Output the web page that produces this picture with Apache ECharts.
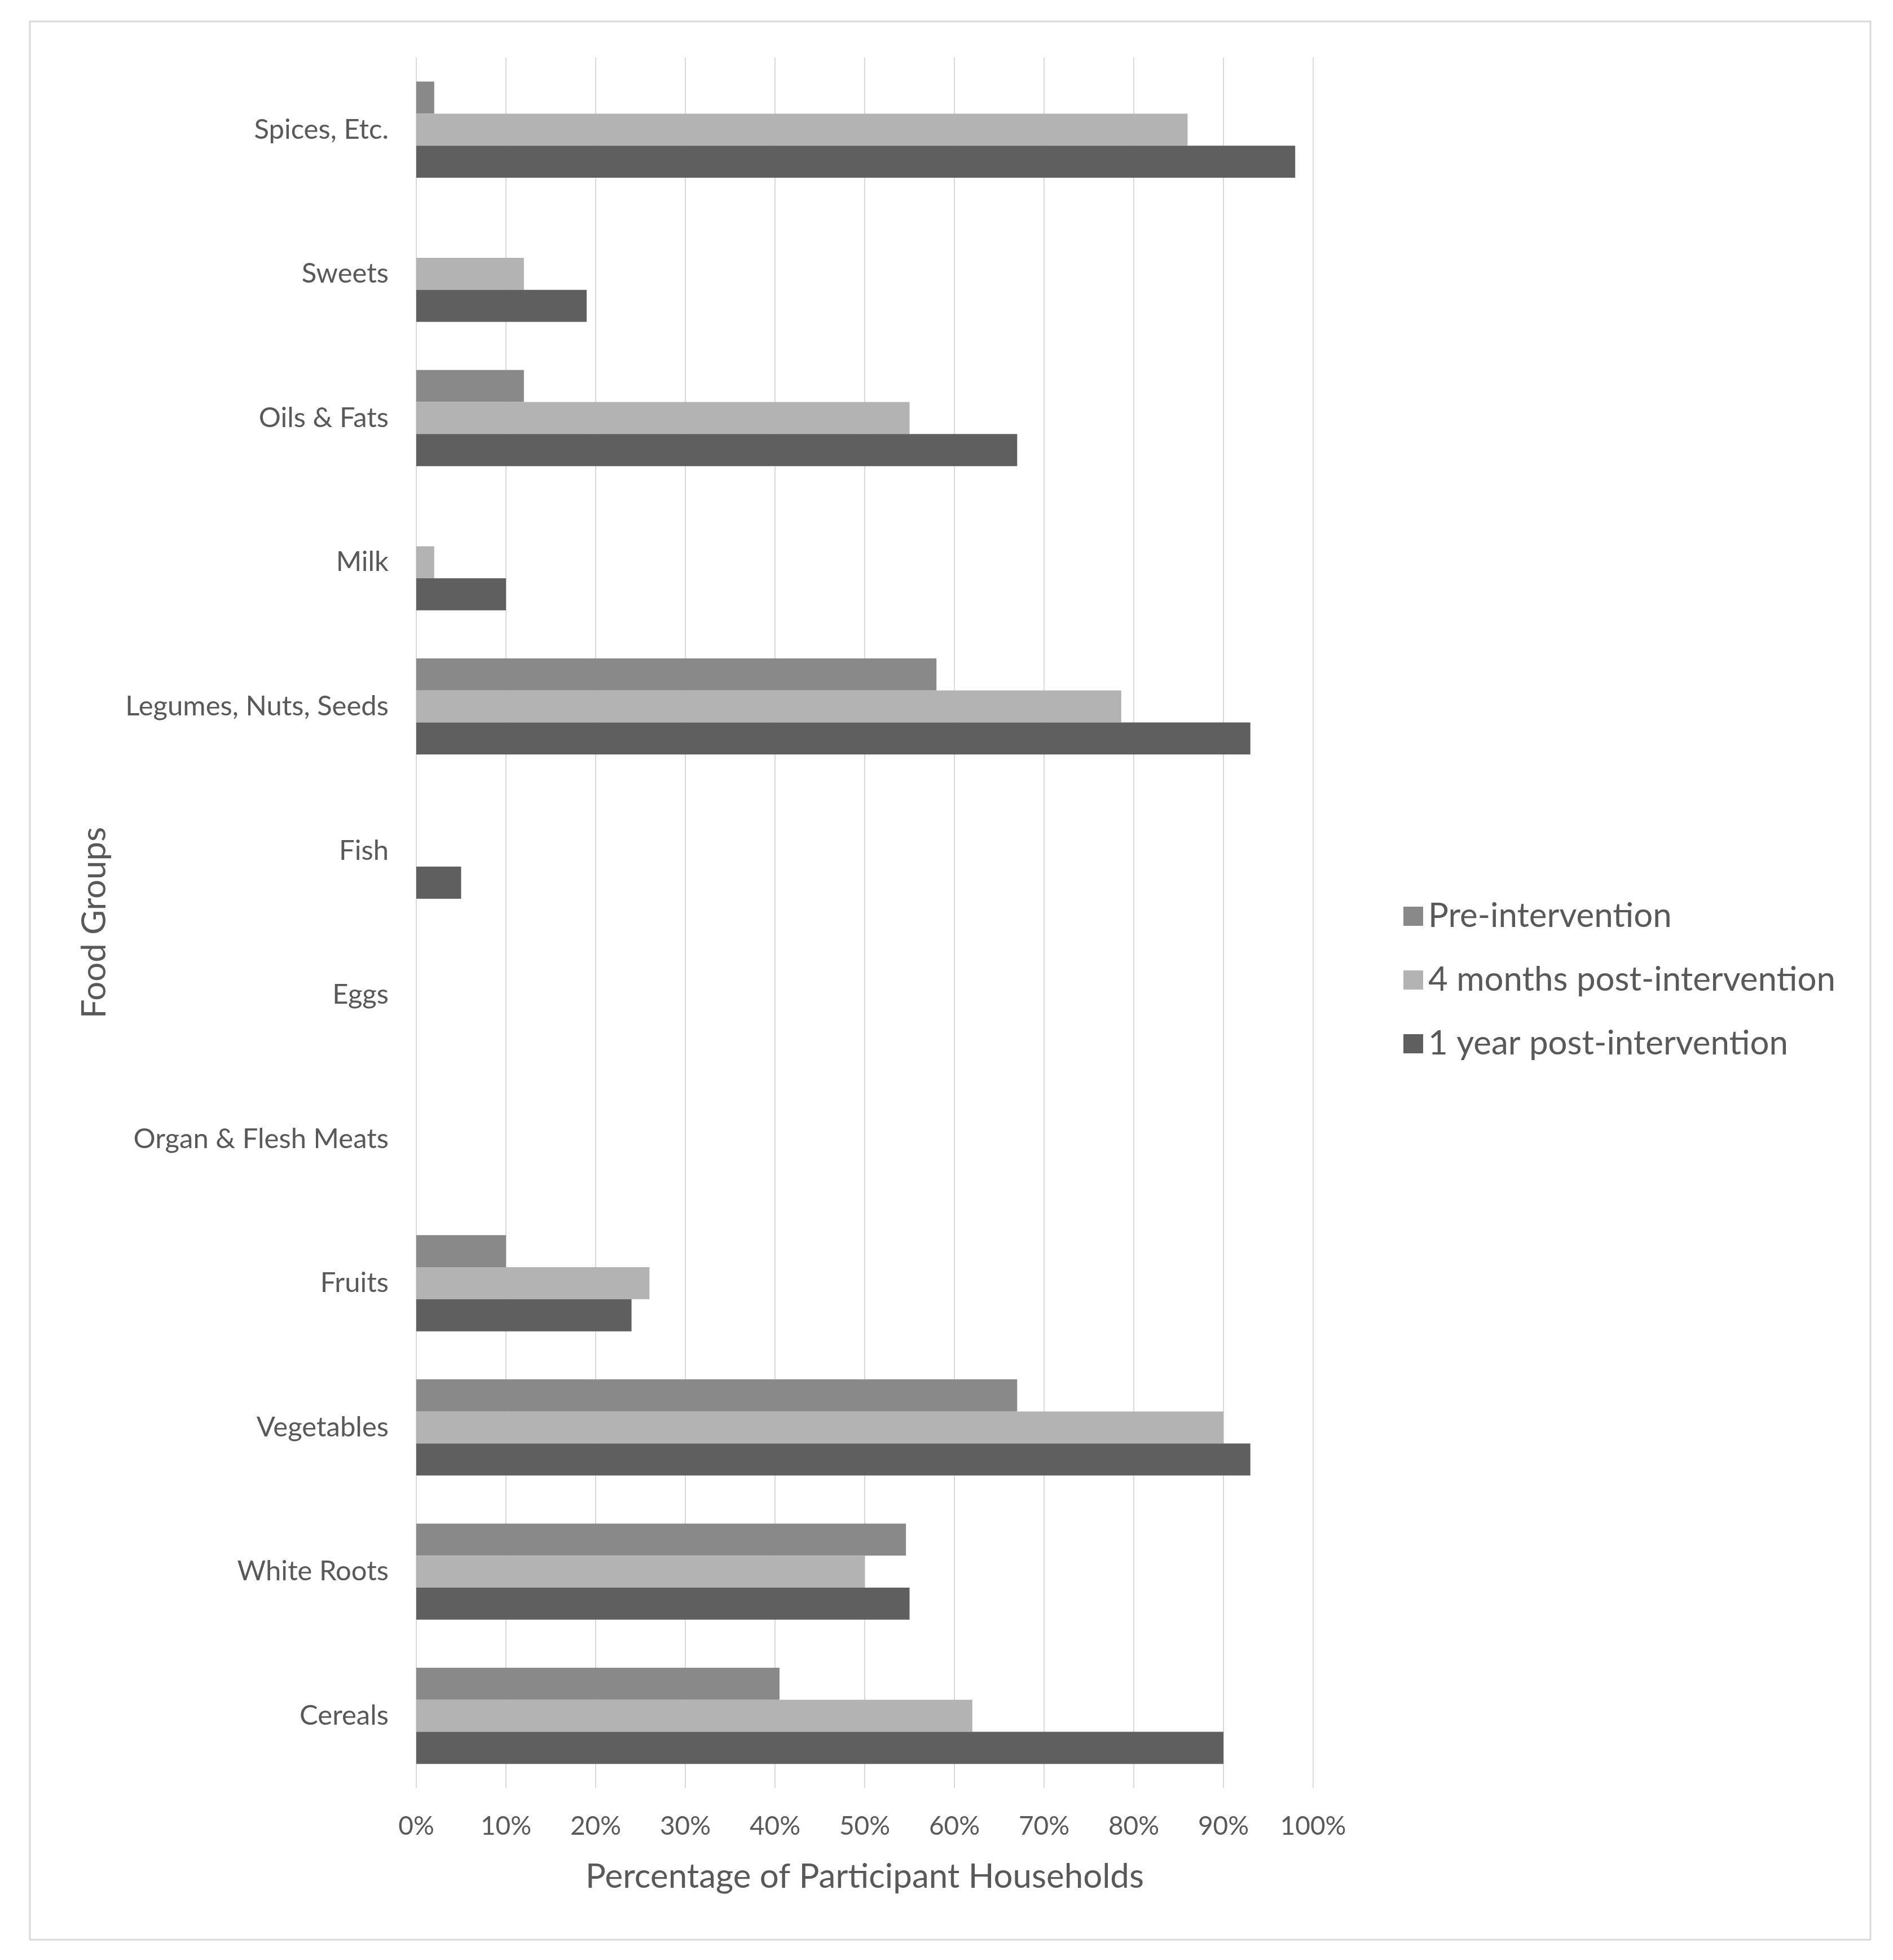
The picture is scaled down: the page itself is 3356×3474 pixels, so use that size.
<!DOCTYPE html>
<html>
<head>
<meta charset="utf-8">
<script src="https://cdn.jsdelivr.net/npm/echarts@6/dist/echarts.min.js"></script>
<style>
html,body{margin:0;padding:0;background:#fff;}
#chart{width:3356px;height:3474px;}
</style>
</head>
<body>
<div id="chart"></div>
<script>
// Categories listed bottom to top
const categories = ['Cereals', 'White Roots', 'Vegetables', 'Fruits', 'Organ & Flesh Meats', 'Eggs', 'Fish', 'Legumes, Nuts, Seeds', 'Milk', 'Oils & Fats', 'Sweets', 'Spices, Etc.'];
const seriesNames = ['Pre-intervention', '4 months post-intervention', '1 year post-intervention'];
const preIntervention = [40.5, 54.6, 67, 10, 0, 0, 0, 58, 0, 12, 0, 2];
const fourMonths = [62, 50, 90, 26, 0, 0, 0, 78.6, 2, 55, 12, 86];
const oneYear = [90, 55, 93, 24, 0, 0, 5, 93, 10, 67, 19, 98];
const xTicks = [0, 10, 20, 30, 40, 50, 60, 70, 80, 90, 100];

const FONT = 'Lato';
const TXT = '#595959';
const colors = ['#898989', '#b3b3b3', '#5f5f5f'];
const values = [preIntervention, fourMonths, oneYear];

const chart = echarts.init(document.getElementById('chart'));
const option = {
  backgroundColor: '#ffffff',
  animation: false,
  textStyle: { fontFamily: FONT, color: TXT },
  graphic: [{
    type: 'rect',
    shape: { x: 53, y: 38, width: 3263, height: 3400 },
    style: { fill: 'none', stroke: '#d9d9d9', lineWidth: 3 },
    silent: true
  }],
  grid: { left: 738, right: 1028, top: 102, bottom: 3474 - 3169, containLabel: false },
  legend: {
    data: seriesNames,
    orient: 'vertical',
    left: 2483,
    top: 1589,
    itemWidth: 35,
    itemHeight: 34,
    itemGap: 53,
    icon: 'rect',
    textStyle: { fontFamily: FONT, fontSize: 60, color: TXT, lineHeight: 60, padding: [0, 0, 0, 4] }
  },
  xAxis: {
    type: 'value',
    min: xTicks[0],
    max: xTicks[xTicks.length - 1],
    interval: 10,
    axisLine: { show: false },
    axisTick: { show: false },
    splitLine: { show: true, lineStyle: { color: '#d9d9d9', width: 2 } },
    axisLabel: { formatter: v => v + '%', fontFamily: FONT, fontSize: 46, color: TXT, margin: 45 },
    name: 'Percentage of Participant Households',
    nameLocation: 'middle',
    nameGap: 128,
    nameTextStyle: { fontFamily: FONT, fontSize: 60, color: TXT }
  },
  yAxis: {
    type: 'category',
    data: categories,
    axisLine: { show: false },
    axisTick: { show: false },
    axisLabel: { fontFamily: FONT, fontSize: 49, color: TXT, margin: 49 },
    name: 'Food Groups',
    nameLocation: 'middle',
    nameRotate: 90,
    nameGap: 540,
    nameTextStyle: { fontFamily: FONT, fontSize: 60, color: TXT }
  },
  series: seriesNames.map((n, i) => ({
    name: n,
    type: 'bar',
    data: values[i],
    barGap: '0%',
    barCategoryGap: '33.3%',
    itemStyle: { color: colors[i] }
  }))
};
chart.setOption(option);
</script>
</body>
</html>
